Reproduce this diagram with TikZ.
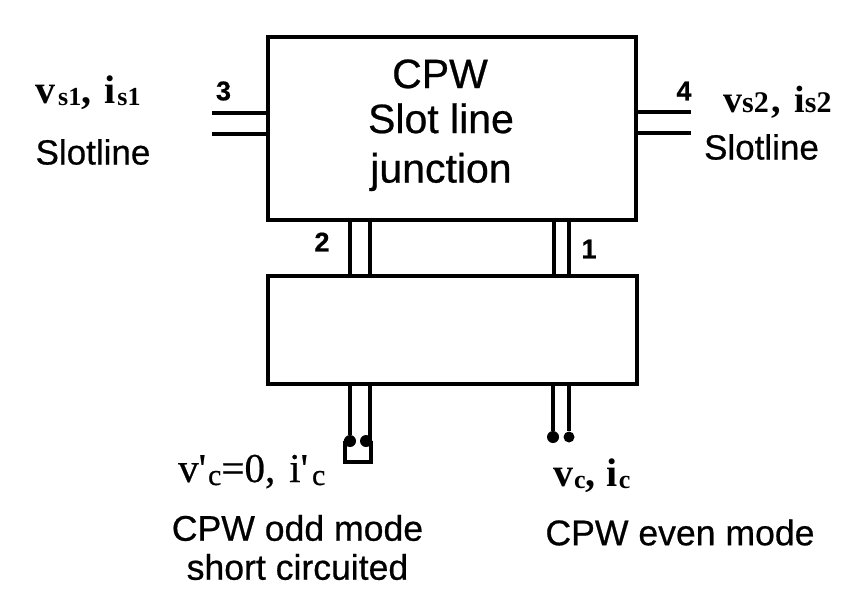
\documentclass[tikz,border=0pt]{standalone}
\usepackage{fontspec}
\setmainfont{Liberation Sans}[FakeBold=0.6]
\newfontfamily\labelserif{Liberation Serif}
\newfontfamily\labelthin{Liberation Serif}[FakeBold=0.6]
\usetikzlibrary{positioning}
\newcommand{\tinysub}[1]{\raisebox{-2pt}{\fontsize{26}{26}\selectfont #1}}
\newcommand{\widesub}[1]{{\fontsize{30}{30}\selectfont #1}}
\newcommand{\thinsub}[1]{\raisebox{-3pt}{\fontsize{30}{30}\selectfont #1}}
\tikzset{
	junbox/.style={rectangle, draw, line width=3.6pt, inner sep=0pt},
	wire/.style={draw, line width=3.2pt},
	term/.style={circle, fill=black, inner sep=0pt, minimum size=12pt},
	sans/.style={inner sep=0pt, align=center, font=\fontsize{35.6}{39}\selectfont},
	slot/.style={inner sep=0pt, font=\fontsize{35}{35}\selectfont},
	volt/.style={inner sep=0pt, anchor=base west, font=\labelserif\bfseries\fontsize{40}{40}\selectfont},
	portnum/.style={inner sep=0pt, font=\bfseries\fontsize{27}{27}\selectfont}
}
\begin{document}
\begin{tikzpicture}[x=1pt,y=-1pt]
		\useasboundingbox (0,0) rectangle (851,600);
		\node (jun) at (452,128.5) [junbox, minimum width = 368pt, minimum height = 183pt] {};
		\node (juntext) at (441,125.25) [inner sep=0pt, align=center, font=\fontsize{41}{48.5}\selectfont] {CPW\hspace{2pt} \\[-3.5pt] Slot line \\[1pt] junction};
		\node (net) at (452.5,330) [junbox, minimum width = 369pt, minimum height = 108pt] {};
		% slotline stubs
		\coordinate (s3a) at (212,113);
		\coordinate (s3b) at (212,134);
		\coordinate (s4a) at (691,112);
		\coordinate (s4b) at (691,133);
		\path [wire] (s3a) -- (s3a-|jun.west);
		\path [wire] (s3b) -- (s3b-|jun.west);
		\path [wire] (s4a) -- (s4a-|jun.east);
		\path [wire] (s4b) -- (s4b-|jun.east);
		% lines between the boxes
		\coordinate (c2a) at (350,220);
		\coordinate (c2b) at (370,220);
		\coordinate (c1a) at (554,220);
		\coordinate (c1b) at (569,220);
		\path [wire] (c2a|-jun.south) -- (c2a|-net.north);
		\path [wire] (c2b|-jun.south) -- (c2b|-net.north);
		\path [wire] (c1a|-jun.south) -- (c1a|-net.north);
		\path [wire] (c1b|-jun.south) -- (c1b|-net.north);
		% terminals
		\node (t1) at (350,441) [term] {};
		\node (t2) at (366,441) [term] {};
		\node (t3) at (553,437) [term] {};
		\node (t4) at (569,437) [term, minimum size=11pt] {};
		\path [wire] (c2a|-net.south) -- (t1);
		\path [wire] (c2b|-net.south) -- (c2b|-t2) -- (t2);
		\path [wire] (t3|-net.south) -- (t3);
		\path [wire] (t4|-net.south) -- (t4);
		\coordinate (shorta) at (345,462);
		\coordinate (shortb) at (371,462);
		\path [wire] (t1) -- (shorta|-t1) -- (shorta) -- (shortb) -- (shortb|-t2) -- (t2);
		% labels
		\node (n3) at (223.5,91) [portnum] {3};
		\node (n4) at (684,91) [portnum] {4};
		\node (n2) at (322,242) [portnum] {2};
		\node (n1) at (589,249) [portnum] {1};
		\node (vs1) at (35,103) [volt] {v\hspace{3pt}\tinysub{s1},\hspace{13pt}i\hspace{2pt}\tinysub{s1}};
		\node (vs2) at (723,112) [volt, font=\labelserif\bfseries\fontsize{38}{38}\selectfont] {v\widesub{s2}\hspace{3pt},\hspace{13pt}i\widesub{s2}};
		\node (sl1) at (93,152) [slot] {Slotline};
		\node (sl2) at (761.5,147) [slot] {Slotline};
		\node (vc0) at (178,482) [volt, font=\labelthin\fontsize{41}{41}\selectfont] {v'\hspace{2pt}\thinsub{c}=0,\hspace{14pt}i'\hspace{4pt}\thinsub{c}};
		\node (vc) at (553,486) [volt] {v\hspace{1pt}\tinysub{c},\hspace{11pt}i\hspace{1pt}\tinysub{c}};
		\node (odd) at (297.5,547.5) [sans] {CPW odd mode \\ short circuited};
		\node (even) at (680,532.5) [sans] {CPW even mode};
	\end{tikzpicture}
\end{document}
